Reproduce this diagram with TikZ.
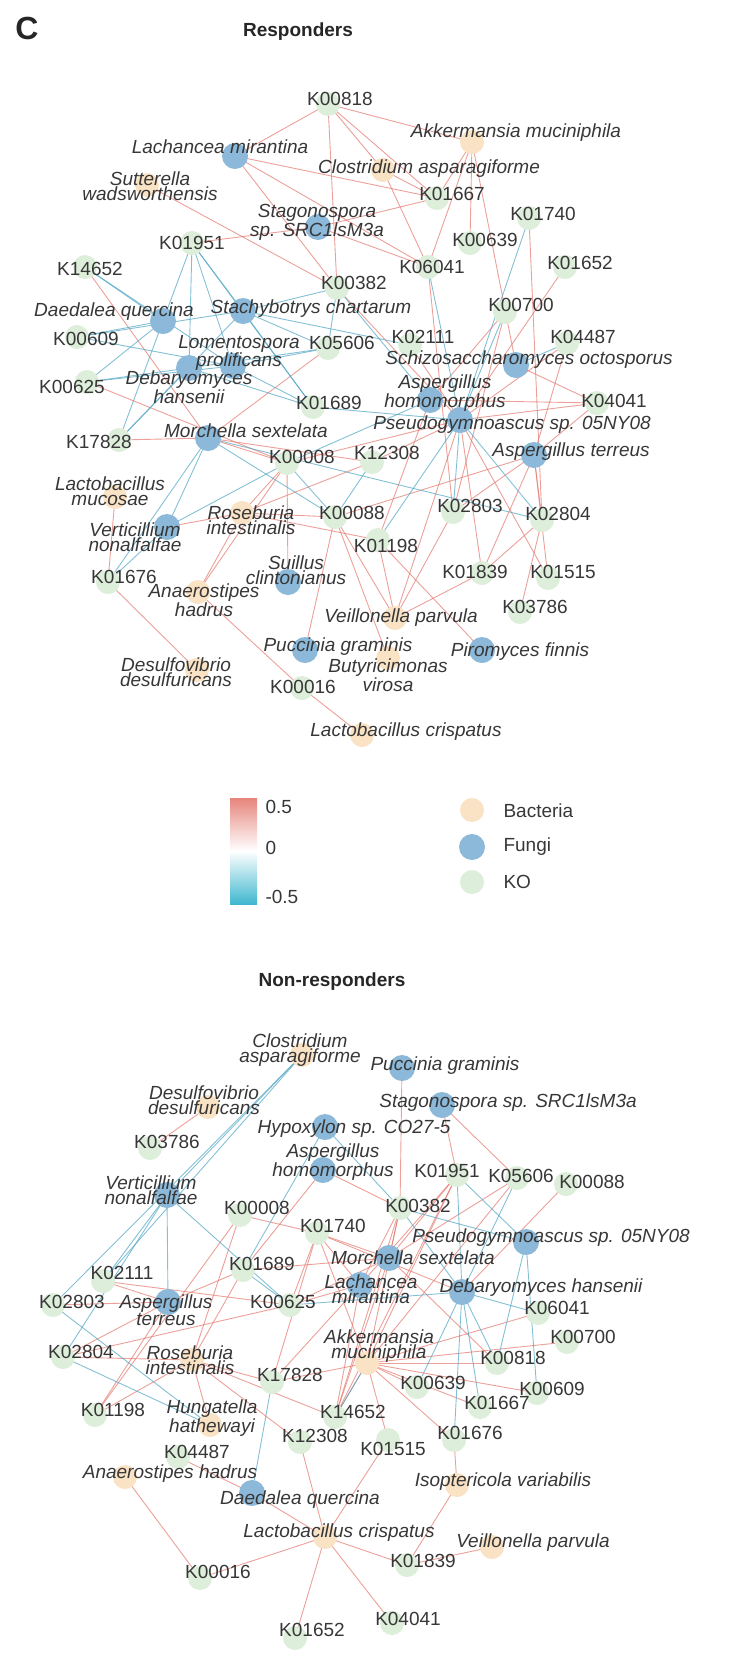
\documentclass[tikz,border=0pt]{standalone}
\usepackage{fontspec}
\setmainfont{Liberation Sans}
\usetikzlibrary{backgrounds}
\definecolor{bacc}{RGB}{250,226,196}
\definecolor{func}{RGB}{140,185,217}
\definecolor{koc}{RGB}{221,238,218}
\definecolor{posc}{RGB}{228,120,110}
\definecolor{negc}{RGB}{80,165,195}
\definecolor{txt}{RGB}{55,55,55}
\newcommand\nd[4]{\node[#2] (#1) at (#3,#4) {};}
\newcommand\mylab[3]{\node[lab] at (#1,#2) {#3};}
\newcommand\myko[3]{\node[lab,font=\fontsize{19}{15}\selectfont] at (#1,#2) {#3};}
\begin{document}
\begin{tikzpicture}[x=1pt,y=-1pt,
  bac/.style={circle,fill=bacc,minimum size=24pt,inner sep=0pt},
  fun/.style={circle,fill=func,minimum size=26pt,inner sep=0pt},
  ko/.style={circle,fill=koc,minimum size=24pt,inner sep=0pt},
  lab/.style={text=txt,align=center,inner sep=0pt,font=\fontsize{19}{15}\selectfont\itshape},
  pe/.style={draw=posc,draw opacity=.7,line width=.9pt},
  ne/.style={draw=negc,draw opacity=.7,line width=.9pt}]
\path[use as bounding box] (0,0) rectangle (736,1674);
\node[font=\fontsize{32}{32}\selectfont\bfseries,text=black!85] (C) at (27,28) {C};
\node[font=\fontsize{19}{19}\selectfont\bfseries,text=black!85] (t1) at (298,32) {Responders};
\node[font=\fontsize{19}{19}\selectfont\bfseries,text=black!85] (t2) at (332,982) {Non-responders};
% legend
\shade[top color=posc!90!white,bottom color=negc!80!cyan,middle color=white] (230,798) rectangle (257,904);
\node[anchor=west,text=txt,font=\fontsize{19}{19}\selectfont] (l1) at (262,807) {0.5};
\node[anchor=west,text=txt,font=\fontsize{19}{19}\selectfont] (l2) at (262,848) {0};
\node[anchor=west,text=txt,font=\fontsize{19}{19}\selectfont] (l3) at (262,897) {-0.5};
\nd{lgB}{bac}{472}{810}\nd{lgF}{fun}{472}{847}\nd{lgK}{ko}{472}{882}
\node[anchor=west,text=txt,font=\fontsize{19}{19}\selectfont] (lb1) at (500,811) {Bacteria};
\node[anchor=west,text=txt,font=\fontsize{19}{19}\selectfont] (lb2) at (500,847) {Fungi};
\node[anchor=west,text=txt,font=\fontsize{19}{19}\selectfont] (lb3) at (500,882) {KO};
% ---------- top nodes
\nd{tK00818}{ko}{328}{104}\nd{tLach}{fun}{235}{156}\nd{tSutt}{bac}{147}{185}
\nd{tStag}{fun}{318}{227}\nd{tAkk}{bac}{472}{142}\nd{tClos}{bac}{383}{170}
\nd{tK01667}{ko}{437}{198}\nd{tK01740}{ko}{529}{218}\nd{tK00639}{ko}{470}{243}
\nd{tK01951}{ko}{192}{243}\nd{tK14652}{ko}{85}{267}\nd{tK06041}{ko}{428}{267}
\nd{tK01652}{ko}{565}{267}\nd{tK00382}{ko}{337}{288}\nd{tStachy}{fun}{243}{311}
\nd{tDaed}{fun}{163}{321}\nd{tK00700}{ko}{505}{312}\nd{tK00609}{ko}{77}{337}
\nd{tK05606}{ko}{328}{348}\nd{tK02111}{ko}{410}{345}\nd{tK04487}{ko}{567}{343}
\nd{tLom}{fun}{233}{366}\nd{tSchizo}{fun}{516}{365}\nd{tDeb}{fun}{189}{368}
\nd{tK00625}{ko}{87}{382}\nd{tAspH}{fun}{430}{400}\nd{tK04041}{ko}{597}{403}
\nd{tK01689}{ko}{313}{407}\nd{tPseudo}{fun}{460}{420}\nd{tMorch}{fun}{208}{438}
\nd{tK17828}{ko}{119}{440}\nd{tAspT}{fun}{534}{455}\nd{tK00008}{ko}{287}{463}
\nd{tK12308}{ko}{372}{462}\nd{tLmuc}{bac}{115}{497}\nd{tK02803}{ko}{453}{512}
\nd{tRos}{bac}{242}{513}\nd{tK00088}{ko}{335}{517}\nd{tK02804}{ko}{542}{520}
\nd{tVert}{fun}{167}{527}\nd{tK01198}{ko}{378}{540}\nd{tK01839}{ko}{482}{573}
\nd{tK01515}{ko}{548}{578}\nd{tK01676}{ko}{108}{582}\nd{tSuil}{fun}{288}{582}
\nd{tAnae}{bac}{198}{592}\nd{tK03786}{ko}{520}{612}\nd{tVeil}{bac}{395}{618}
\nd{tPucc}{fun}{305}{650}\nd{tPiro}{fun}{482}{650}\nd{tButy}{bac}{388}{658}
\nd{tDesu}{bac}{197}{670}\nd{tK00016}{ko}{302}{688}\nd{tLcri}{bac}{362}{735}
% ---------- bottom nodes
\nd{bClos}{bac}{302}{1055}\nd{bPucc}{fun}{402}{1068}\nd{bStag}{fun}{442}{1105}
\nd{bDesu}{bac}{208}{1107}\nd{bHypo}{fun}{325}{1127}\nd{bK03786}{ko}{150}{1148}
\nd{bAspH}{fun}{323}{1170}\nd{bK01951}{ko}{457}{1175}\nd{bK05606}{ko}{517}{1178}
\nd{bK00088}{ko}{566}{1184}\nd{bVert}{fun}{167}{1195}\nd{bK00382}{ko}{400}{1208}
\nd{bK00008}{ko}{240}{1215}\nd{bK01740}{ko}{317}{1233}\nd{bPseudo}{fun}{526}{1242}
\nd{bMorch}{fun}{389}{1258}\nd{bK01689}{ko}{243}{1270}\nd{bK02111}{ko}{103}{1281}
\nd{bLach}{fun}{360}{1285}\nd{bDeb}{fun}{462}{1292}\nd{bK02803}{ko}{53}{1305}
\nd{bAspT}{fun}{168}{1302}\nd{bK00625}{ko}{290}{1305}\nd{bK06041}{ko}{538}{1313}
\nd{bK00700}{ko}{567}{1342}\nd{bK02804}{ko}{63}{1357}\nd{bRos}{bac}{192}{1360}
\nd{bAkk}{bac}{367}{1363}\nd{bK00818}{ko}{497}{1363}\nd{bK17828}{ko}{272}{1382}
\nd{bK00639}{ko}{417}{1387}\nd{bK00609}{ko}{537}{1393}\nd{bK01667}{ko}{480}{1407}
\nd{bK01198}{ko}{95}{1415}\nd{bK14652}{ko}{335}{1417}\nd{bHung}{bac}{210}{1425}
\nd{bK12308}{ko}{300}{1442}\nd{bK01515}{ko}{388}{1440}\nd{bK01676}{ko}{454}{1440}
\nd{bK04487}{ko}{178}{1457}\nd{bAnae}{bac}{125}{1477}\nd{bIso}{bac}{457}{1485}
\nd{bDaed}{fun}{252}{1493}\nd{bLcri}{bac}{325}{1537}\nd{bVeil}{bac}{492}{1547}
\nd{bK01839}{ko}{407}{1565}\nd{bK00016}{ko}{200}{1578}\nd{bK04041}{ko}{392}{1623}
\nd{bK01652}{ko}{295}{1638}
% ---------- edges
\begin{pgfonlayer}{background}
\foreach \a/\b in {tK00818/tLach,tK00818/tAkk,tK00818/tK01667,tK00818/tK00382,tK00818/tClos,
 tLach/tK01667,tLach/tK06041,tLach/tK00382,tSutt/tK00382,tK01951/tStag,tStag/tK01667,tStag/tK06041,
 tClos/tK01667,tClos/tK06041,tAkk/tK01667,tAkk/tK06041,tAkk/tK00639,tAkk/tSchizo,
 tK01740/tK02804,tK01652/tPseudo,tK06041/tK02803,tK00382/tPseudo,tK00700/tK02803,tK00700/tAspH,
 tK04487/tPseudo,tK04487/tAspT,tK05606/tMorch,tK02111/tPseudo,tK14652/tMorch,tK00625/tK00008,
 tK17828/tMorch,tMorch/tK00008,tMorch/tK12308,tK00008/tRos,tK00008/tSuil,tK00008/tAnae,tK00008/tPseudo,
 tK12308/tPseudo,tK12308/tRos,tVert/tRos,tLmuc/tK01676,tRos/tK00088,tRos/tK01198,tRos/tAnae,
 tK00088/tAspT,tK00088/tVeil,tK00088/tPucc,tK01198/tVeil,tK01198/tPiro,tK01198/tAspH,tK01676/tDesu,
 tAnae/tK00016,tK00016/tLcri,tK02803/tAspT,tK02803/tVeil,tK02804/tAspT,tK02804/tK01839,tK02804/tK03786,
 tK01839/tPseudo,tK01839/tVeil,tK01839/tAspT,tK01515/tPseudo,tK01515/tAspT,tK04041/tPseudo,
 tK04041/tSchizo,tK04041/tAspT,tK04041/tAspH,tVeil/tPseudo,tK00088/tButy,
 bDesu/bK03786,bPucc/bK00382,bStag/bK01951,bStag/bK05606,bAspH/bK00382,bAspH/bK01689,
 bK00008/bK01740,bK00008/bRos,bK00008/bK01198,bK01740/bLach,bK01740/bMorch,bK01740/bAkk,bK01740/bDeb,
 bK01740/bK17828,bK01740/bK00625,bK01689/bAspT,bK01689/bRos,bK01689/bMorch,bK02111/bAspT,bK02111/bK00625,
 bK02803/bAspT,bK02804/bAspT,bK02804/bRos,bK02804/bK00625,bK01198/bAspT,bK01198/bRos,
 bRos/bK17828,bRos/bK14652,bRos/bHung,bRos/bK12308,bK04487/bDaed,bAnae/bK00016,bK17828/bAkk,bK17828/bLach,
 bDaed/bLcri,bK12308/bLcri,bK14652/bAkk,bK14652/bLach,bK14652/bMorch,bK14652/bK00382,bK14652/bK01951,
 bK01515/bAkk,bK01515/bLcri,bLcri/bK01839,bLcri/bK04041,bLcri/bK01652,bLcri/bK00016,bIso/bK01676,bIso/bK01839,
 bVeil/bK01839,bAkk/bK06041,bAkk/bK00700,bAkk/bK00818,bAkk/bK00639,bAkk/bK00609,bAkk/bK01667,bAkk/bK01676,
 bAkk/bK00382,bAkk/bK01951,bAkk/bK05606,bDeb/bK00088,bMorch/bK01951,bMorch/bK00382,bMorch/bK05606,
 bMorch/bK00818,bMorch/bK00625,bLach/bK01951,bLach/bK00382,bLach/bK00625}
 {\draw[pe] (\a.center) -- (\b.center);}
\foreach \a/\b in {tK01740/tPseudo,tK06041/tPseudo,tStachy/tK00382,tK00382/tAspH,tK00700/tPseudo,
 tK04487/tSchizo,tK05606/tDeb,tK05606/tLom,tK05606/tStachy,tK02111/tStachy,tK01951/tDaed,tK01951/tLom,
 tK01951/tDeb,tK01951/tStachy,tK01951/tK01689,tK14652/tDaed,tK14652/tLom,tK00609/tDaed,tK00609/tLom,
 tK00609/tStachy,tK00625/tDeb,tK00625/tDaed,tK00625/tLom,tK17828/tDeb,tK17828/tDaed,tK17828/tStachy,
 tK01689/tDeb,tK01689/tLom,tK01689/tStachy,tK01689/tPseudo,tMorch/tK00088,tMorch/tVert,tMorch/tK01676,
 tMorch/tK02804,tK00008/tVert,tK00008/tK00088,tK00008/tAspH,tK12308/tK00088,tVert/tK01676,
 tK01198/tPseudo,tK02803/tPseudo,tK02804/tPseudo,tK00382/tK05606,
 bClos/bVert,bClos/bK02803,bClos/bK02111,bHypo/bK00382,bHypo/bK01689,bVert/bK02111,bVert/bK02804,
 bVert/bK00625,bVert/bAspT,bK01689/bK00625,bK02803/bHung,bK02804/bHung,bK17828/bDaed,
 bDeb/bK06041,bDeb/bK00818,bDeb/bK00639,bDeb/bK01667,bDeb/bK01676,bDeb/bK01951,bDeb/bK05606,bDeb/bK00382,
 bDeb/bK00625,bPseudo/bK01951,bPseudo/bK00382,bPseudo/bK00818,bPseudo/bK00609,bAkk/bK14652}
 {\draw[ne] (\a.center) -- (\b.center);}
\end{pgfonlayer}
% ---------- top labels
\myko{340}{99}{K00818}\mylab{220}{147}{Lachancea mirantina}\mylab{150}{186}{Sutterella\\wadsworthensis}
\mylab{317}{222}{Stagonospora\\sp. SRC1lsM3a}\mylab{516}{133}{Akkermansia muciniphila}
\mylab{429}{169}{Clostridium asparagiforme}\myko{452}{194}{K01667}\myko{543}{214}{K01740}
\myko{485}{240}{K00639}\myko{192}{243}{K01951}\myko{90}{269}{K14652}\myko{432}{267}{K06041}
\myko{580}{263}{K01652}\myko{354}{283}{K00382}\mylab{311}{309}{Stachybotrys chartarum}
\mylab{114}{312}{Daedalea quercina}\myko{521}{305}{K00700}\myko{86}{339}{K00609}
\myko{342}{343}{K05606}\myko{423}{337}{K02111}\myko{583}{337}{K04487}
\mylab{239}{353}{Lomentospora\\prolificans}\mylab{529}{360}{Schizosaccharomyces octosporus}
\mylab{189}{387}{Debaryomyces\\hansenii}\myko{72}{387}{K00625}\mylab{445}{393}{Aspergillus\\homomorphus}
\myko{614}{401}{K04041}\myko{329}{403}{K01689}\mylab{512}{425}{Pseudogymnoascus sp. 05NY08}
\mylab{246}{431}{Morchella sextelata}\myko{99}{442}{K17828}\mylab{571}{452}{Aspergillus terreus}
\myko{302}{457}{K00008}\myko{387}{453}{K12308}\mylab{110}{491}{Lactobacillus\\mucosae}
\myko{470}{506}{K02803}\mylab{251}{520}{Roseburia\\intestinalis}\myko{352}{513}{K00088}
\myko{558}{514}{K02804}\mylab{135}{537}{Verticillium\\nonalfalfae}\myko{386}{546}{K01198}
\myko{475}{572}{K01839}\myko{563}{572}{K01515}\myko{124}{577}{K01676}
\mylab{296}{570}{Suillus\\clintonianus}\mylab{204}{600}{Anaerostipes\\hadrus}\myko{535}{607}{K03786}
\mylab{401}{618}{Veillonella parvula}\mylab{338}{647}{Puccinia graminis}\mylab{520}{652}{Piromyces finnis}
\mylab{388}{675}{Butyricimonas\\virosa}\mylab{176}{672}{Desulfovibrio\\desulfuricans}
\myko{303}{687}{K00016}\mylab{406}{732}{Lactobacillus crispatus}
% ---------- bottom labels
\mylab{300}{1050}{Clostridium\\asparagiforme}\mylab{445}{1066}{Puccinia graminis}
\mylab{508}{1103}{Stagonospora sp. SRC1lsM3a}\mylab{204}{1100}{Desulfovibrio\\desulfuricans}
\mylab{354}{1129}{Hypoxylon sp. CO27-5}\myko{167}{1142}{K03786}\mylab{333}{1162}{Aspergillus\\homomorphus}
\myko{447}{1171}{K01951}\myko{521}{1176}{K05606}\myko{592}{1182}{K00088}
\mylab{151}{1190}{Verticillium\\nonalfalfae}\myko{418}{1206}{K00382}\myko{257}{1208}{K00008}
\myko{333}{1226}{K01740}\mylab{551}{1238}{Pseudogymnoascus sp. 05NY08}\mylab{413}{1258}{Morchella sextelata}
\myko{262}{1264}{K01689}\myko{122}{1273}{K02111}\mylab{371}{1289}{Lachancea\\mirantina}
\mylab{541}{1288}{Debaryomyces hansenii}\myko{72}{1302}{K02803}\mylab{166}{1310}{Aspergillus\\terreus}
\myko{283}{1302}{K00625}\myko{557}{1308}{K06041}\myko{583}{1337}{K00700}\myko{81}{1352}{K02804}
\mylab{190}{1360}{Roseburia\\intestinalis}\mylab{379}{1346}{Akkermansia\\muciniphila}
\myko{513}{1358}{K00818}\myko{290}{1375}{K17828}\myko{433}{1383}{K00639}\myko{552}{1389}{K00609}
\myko{497}{1403}{K01667}\myko{113}{1410}{K01198}\myko{353}{1412}{K14652}\mylab{212}{1418}{Hungatella\\hathewayi}
\myko{315}{1436}{K12308}\myko{393}{1449}{K01515}\myko{470}{1433}{K01676}\myko{197}{1452}{K04487}
\mylab{170}{1474}{Anaerostipes hadrus}\mylab{503}{1482}{Isoptericola variabilis}
\mylab{300}{1500}{Daedalea quercina}\mylab{339}{1533}{Lactobacillus crispatus}
\mylab{533}{1543}{Veillonella parvula}\myko{423}{1561}{K01839}\myko{218}{1572}{K00016}
\myko{408}{1619}{K04041}\myko{312}{1630}{K01652}
\end{tikzpicture}
\end{document}
